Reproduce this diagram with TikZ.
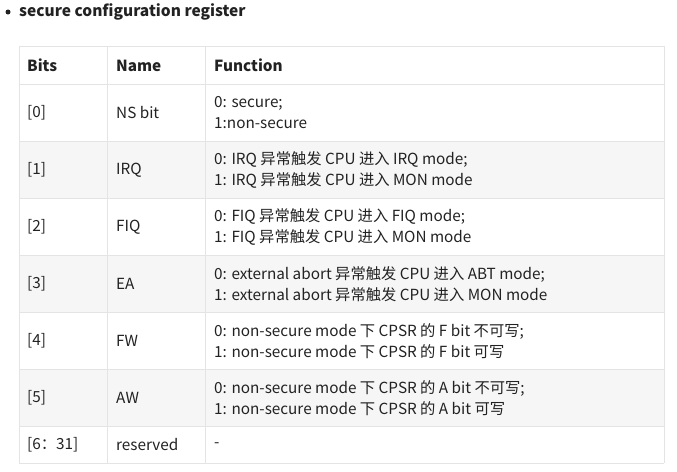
\documentclass[tikz,border=0pt]{standalone}
\usepackage{fontspec}
\setmainfont{Noto Sans CJK SC}
\definecolor{rule}{HTML}{E4E4E4}
\definecolor{stripe}{HTML}{F6F6F6}
\definecolor{ink}{HTML}{222222}
\tikzset{
  cell/.style={anchor=west, inner sep=0pt, text=ink, font=\fontsize{15.3}{21}\selectfont, align=left},
  head/.style={cell, font=\fontsize{15.3}{21}\selectfont\bfseries}
}
\begin{document}
\begin{tikzpicture}[x=1pt,y=-1pt]
    \useasboundingbox (0,0) rectangle (677,471);
    % title
    \fill[ink] (8,12) circle (2.5);
    \node[head, font=\fontsize{15.5}{21}\selectfont\bfseries] (title) at (19,12) {secure configuration register};
    % shaded rows
    \foreach \y in {141,255,369}
        \fill[stripe] (19,\y) rectangle (664,\y+57);
    % grid
    \foreach \y in {46,84,141,198,255,312,369,426,463}
        \draw[rule] (19,\y) -- (664,\y);
    \foreach \x in {19,107,205,664}
        \draw[rule] (\x,46) -- (\x,463);
    % header
    \node[head] (hbits) at (27,65.5) {Bits};
    \node[head] (hname) at (116,65.5) {Name};
    \node[head] (hfunc) at (214,65.5) {Function};
    % rows
    \foreach \i/\y/\b/\n/\f in {
        0/113/{[0]}/{NS bit}/{0: secure;\\1:non-secure},
        1/170/{[1]}/{IRQ}/{0: IRQ 异常触发 CPU 进入 IRQ mode;\\1: IRQ 异常触发 CPU 进入 MON mode},
        2/227/{[2]}/{FIQ}/{0: FIQ 异常触发 CPU 进入 FIQ mode;\\1: FIQ 异常触发 CPU 进入 MON mode},
        3/284/{[3]}/{EA}/{0: external abort 异常触发 CPU 进入 ABT mode;\\1: external abort 异常触发 CPU 进入 MON mode},
        4/341/{[4]}/{FW}/{0: non-secure mode 下 CPSR 的 F bit 不可写;\\1: non-secure mode 下 CPSR 的 F bit 可写},
        5/398/{[5]}/{AW}/{0: non-secure mode 下 CPSR 的 A bit 不可写;\\1: non-secure mode 下 CPSR 的 A bit 可写},
        6/445/{[6：31]}/{reserved}/{-}} {
        \node[cell] (bits\i) at (27,\y) {\b};
        \node[cell] (name\i) at (116,\y) {\n};
        \node[cell] (func\i) at (214,\y) {\f};
    }
\end{tikzpicture}
\end{document}
